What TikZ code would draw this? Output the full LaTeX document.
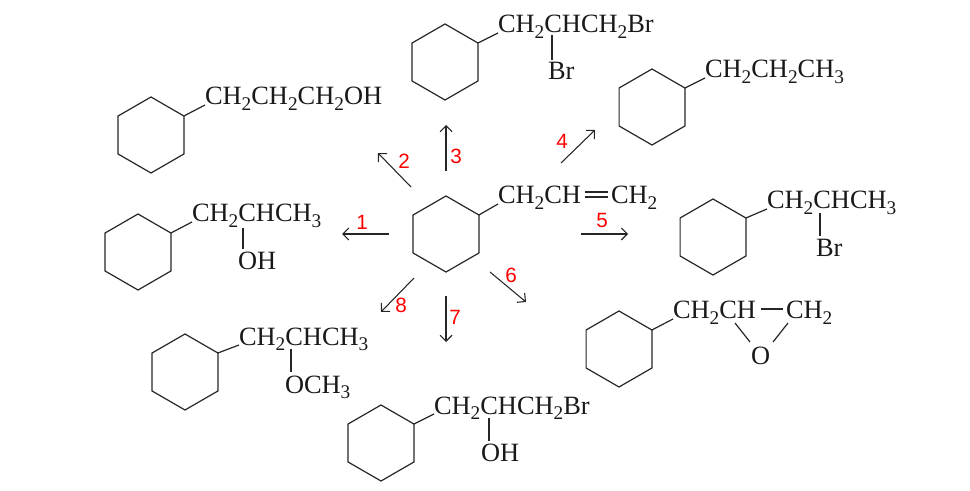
\documentclass[tikz,border=0pt]{standalone}
\usepackage{fontspec}
\setmainfont{Liberation Serif}
\newfontfamily\stepfont{Liberation Sans}
\usetikzlibrary{shapes.geometric,arrows.meta}
\newcommand{\twosub}[1]{\raisebox{-0.2em}{\fontsize{14.5}{15}\selectfont #1}}
\tikzset{
  ring/.style={draw=black!85,line width=0.9pt,regular polygon,regular polygon sides=6,shape border rotate=30,minimum size=57pt,inner sep=0pt,outer sep=0pt},
  formula/.style={anchor=base west,inner sep=0pt,outer sep=0pt,text=black!90,font=\fontsize{19.8}{24}\selectfont},
  bond/.style={draw=black!85,line width=0.9pt},
  reaction/.style={draw=black!85,line width=0.8pt,-{Straight Barb[length=4.5pt,width=9pt]}},
  stepnum/.style={text=red,inner sep=0pt,font=\stepfont\fontsize{15.5}{17}\selectfont},
}
\begin{document}
\begin{tikzpicture}[x=0.75pt,y=0.75pt,yscale=-1,xscale=1]
\useasboundingbox (0,0) rectangle (970,491);

% Rings
\node [ring] (core) at (446,234) {};
\node [ring] (ringA) at (138,252) {};
\node [ring] (ringB) at (151,135) {};
\node [ring] (ringC) at (445,62) {};
\node [ring] (ringD) at (652,107) {};
\node [ring] (ringE) at (713,237) {};
\node [ring] (ringF) at (619,349) {};
\node [ring] (ringG) at (381,443) {};
\node [ring] (ringH) at (185,372) {};

% Text Node
\node [formula] (coreL) at (498,204) {CH\twosub{2}CH};
\node [formula] (coreR) at (611,204) {CH\twosub{2}};
\node [formula] (txtA) at (192,222) {CH\twosub{2}CHCH\twosub{3}};
\node [formula] (subA) at (238,270) {OH};
\node [formula] (txtB) at (205,105) {CH\twosub{2}CH\twosub{2}CH\twosub{2}OH};
\node [formula] (txtC) at (498,33) {CH\twosub{2}CHCH\twosub{2}Br};
\node [formula] (subC) at (548,80) {Br};
\node [formula] (txtD) at (705,78) {CH\twosub{2}CH\twosub{2}CH\twosub{3}};
\node [formula] (txtE) at (767,209) {CH\twosub{2}CHCH\twosub{3}};
\node [formula] (subE) at (816,257) {Br};
\node [formula] (txtF) at (673,319) {CH\twosub{2}CH};
\node [formula] (endF) at (786,319) {CH\twosub{2}};
\node [formula] (subF) at (751,364) {O};
\node [formula] (txtG) at (434,414) {CH\twosub{2}CHCH\twosub{2}Br};
\node [formula] (subG) at (481,461) {OH};
\node [formula] (txtH) at (239,345) {CH\twosub{2}CHCH\twosub{3}};
\node [formula] (subH) at (285,393) {OCH\twosub{3}};

% Ring to chain bonds
\foreach \ringname/\txtname in {core/coreL,ringA/txtA,ringB/txtB,ringC/txtC,ringD/txtD,ringE/txtE,ringF/txtF,ringG/txtG,ringH/txtH}
  \draw [bond] (\ringname.corner 6) -- (\txtname.base west);

% Chain to substituent bonds
\coordinate (topA) at (243,228);
\coordinate (endA) at (243,249);
\coordinate (topC) at (552,35);
\coordinate (endC) at (552,60);
\coordinate (topE) at (820,213);
\coordinate (endE) at (820,236);
\coordinate (topG) at (489,418);
\coordinate (endG) at (489,441);
\coordinate (topH) at (291,349);
\coordinate (endH) at (291,372);
\foreach \a in {A,C,E,G,H}
  \draw [bond] (top\a) -- (end\a);

% Double bond and epoxide
\draw [bond] ([shift={(4,-12)}]coreL.base east) -- ([shift={(-3,-12)}]coreR.base west);
\draw [bond] ([shift={(4,-7)}]coreL.base east) -- ([shift={(-3,-7)}]coreR.base west);
\draw [bond] ([shift={(5,-10)}]txtF.base east) -- ([shift={(-3,-10)}]endF.base west);
\coordinate (epoA) at (735,323);
\coordinate (epoB) at (788,323);
\coordinate (epoC) at (750,342);
\coordinate (epoD) at (773,342);
\draw [bond] (epoA) -- (epoC);
\draw [bond] (epoB) -- (epoD);

% Reaction arrows
\foreach \n/\sx/\sy/\ex/\ey in {1/389/234/342/234,2/411/187/378/153,3/446/171/446/125,4/561/163/595/130,5/581/234/628/234,6/490/272/526/302,7/446/296/446/342,8/414/278/381/312}{
  \coordinate (start\n) at (\sx,\sy);
  \coordinate (end\n) at (\ex,\ey);
  \draw [reaction] (start\n) -- (end\n);
}

% Step numbers
\node [stepnum] (num1) at (362,222) {1};
\node [stepnum] (num2) at (404,161) {2};
\node [stepnum] (num3) at (456,156) {3};
\node [stepnum] (num4) at (562,141) {4};
\node [stepnum] (num5) at (602,220) {5};
\node [stepnum] (num6) at (511,275) {6};
\node [stepnum] (num7) at (455,317) {7};
\node [stepnum] (num8) at (401,305) {8};
\end{tikzpicture}
\end{document}
